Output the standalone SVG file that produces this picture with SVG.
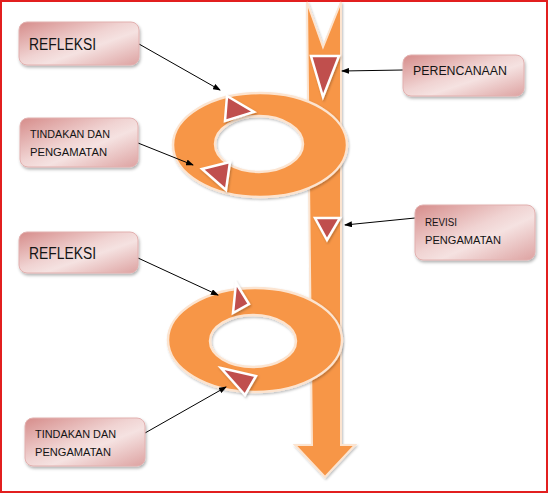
<svg xmlns="http://www.w3.org/2000/svg" width="549" height="494" viewBox="0 0 549 494">
<style>
.ring{fill:#F79646;fill-rule:evenodd;stroke:#FCE4D0;stroke-width:2.5;filter:url(#sh)}
.shaft{fill:#F79646;stroke:#FCE4D0;stroke-width:2;filter:url(#sh)}
.tri{fill:#C0504D;stroke:#FFFFFF;stroke-width:2.5;stroke-linejoin:miter;filter:url(#sh)}
.box{fill:url(#pink);stroke:#E2B0AF;stroke-width:1;filter:url(#bsh)}
.lbl{font-family:"Liberation Sans",Arial,sans-serif;fill:#141414}
.con{stroke:#000;stroke-width:1;fill:none;marker-end:url(#ah)}
</style>
<defs>
<linearGradient id="pink" x1="0" y1="0" x2="1" y2="1">
<stop offset="0" stop-color="#D68C8A"/>
<stop offset="0.45" stop-color="#F0D3D2"/>
<stop offset="0.6" stop-color="#F5E2E1"/>
<stop offset="1" stop-color="#DDA2A1"/>
</linearGradient>
<filter id="sh" x="-10%" y="-10%" width="130%" height="130%">
<feDropShadow dx="1" dy="1.5" stdDeviation="1.2" flood-color="#000" flood-opacity="0.25"/>
</filter>
<filter id="bsh" x="-10%" y="-10%" width="130%" height="140%">
<feDropShadow dx="1" dy="2" stdDeviation="1.5" flood-color="#000" flood-opacity="0.3"/>
</filter>
<marker id="ah" markerWidth="8" markerHeight="6" refX="7" refY="3" orient="auto" markerUnits="userSpaceOnUse">
<path d="M0,0 L8,3 L0,6 Z" fill="#000"/>
</marker>
</defs>
<rect x="1" y="1" width="546" height="491" fill="#FFFFFF" stroke="#E21F1F" stroke-width="2"/>
<g id="arrow-shaft">
<polygon class="shaft" points="307,2 323,47 341,2 341,445 355,445 325,477 295,445 312,445"/>
</g>
<g id="ring1">
<path class="ring" d="M173,145 A87,52 0 1,0 347,145 A87,52 0 1,0 173,145 Z M215,144 A44,28 0 1,1 303,144 A44,28 0 1,1 215,144 Z"/>
<polygon class="tri" points="227,96 225,121 254,112"/>
<polygon class="tri" points="202,169 230,162 226,190"/>
</g>
<g id="ring2">
<path class="ring" d="M168,340 A87,52 0 1,0 342,340 A87,52 0 1,0 168,340 Z M210,341 A43,26 0 1,1 296,341 A43,26 0 1,1 210,341 Z"/>
<polygon class="tri" points="236,283 249,304 233,313"/>
<polygon class="tri" points="221,368 256,376 245,395"/>
</g>
<g id="shaft-markers">
<polygon class="tri" points="311,56 339,56 323,97"/>
<polygon class="tri" points="315,218 340,218 327,240"/>
</g>
<g id="connectors">
<line class="con" x1="139" y1="44" x2="220" y2="90"/>
<line class="con" x1="138" y1="143" x2="193" y2="165"/>
<line class="con" x1="403" y1="70" x2="342" y2="71"/>
<line class="con" x1="415" y1="218" x2="345" y2="225"/>
<line class="con" x1="138" y1="258" x2="218" y2="295"/>
<line class="con" x1="145" y1="433" x2="226" y2="387"/>
</g>
<g id="box-refleksi1">
<rect class="box" x="19" y="22" width="120" height="43" rx="8"/>
<text class="lbl" x="29" y="50" font-size="16" textLength="67" lengthAdjust="spacingAndGlyphs">REFLEKSI</text>
</g>
<g id="box-tindakan1">
<rect class="box" x="20" y="118" width="118" height="49" rx="8"/>
<text class="lbl" x="30" y="138" font-size="11.5" textLength="80" lengthAdjust="spacingAndGlyphs">TINDAKAN DAN</text>
<text class="lbl" x="30" y="156" font-size="11.5" textLength="77" lengthAdjust="spacingAndGlyphs">PENGAMATAN</text>
</g>
<g id="box-perencanaan">
<rect class="box" x="403" y="55" width="121" height="41" rx="8"/>
<text class="lbl" x="413" y="75" font-size="12.5" textLength="94" lengthAdjust="spacingAndGlyphs">PERENCANAAN</text>
</g>
<g id="box-revisi">
<rect class="box" x="415" y="205" width="120" height="55" rx="8"/>
<text class="lbl" x="425" y="226" font-size="11.5" textLength="32" lengthAdjust="spacingAndGlyphs">REVISI</text>
<text class="lbl" x="425" y="244" font-size="11.5" textLength="76" lengthAdjust="spacingAndGlyphs">PENGAMATAN</text>
</g>
<g id="box-refleksi2">
<rect class="box" x="19" y="232" width="119" height="41" rx="8"/>
<text class="lbl" x="29" y="259" font-size="16" textLength="67" lengthAdjust="spacingAndGlyphs">REFLEKSI</text>
</g>
<g id="box-tindakan2">
<rect class="box" x="25" y="418" width="120" height="48" rx="8"/>
<text class="lbl" x="35" y="438" font-size="11.5" textLength="81" lengthAdjust="spacingAndGlyphs">TINDAKAN DAN</text>
<text class="lbl" x="35" y="456" font-size="11.5" textLength="76" lengthAdjust="spacingAndGlyphs">PENGAMATAN</text>
</g>
</svg>
